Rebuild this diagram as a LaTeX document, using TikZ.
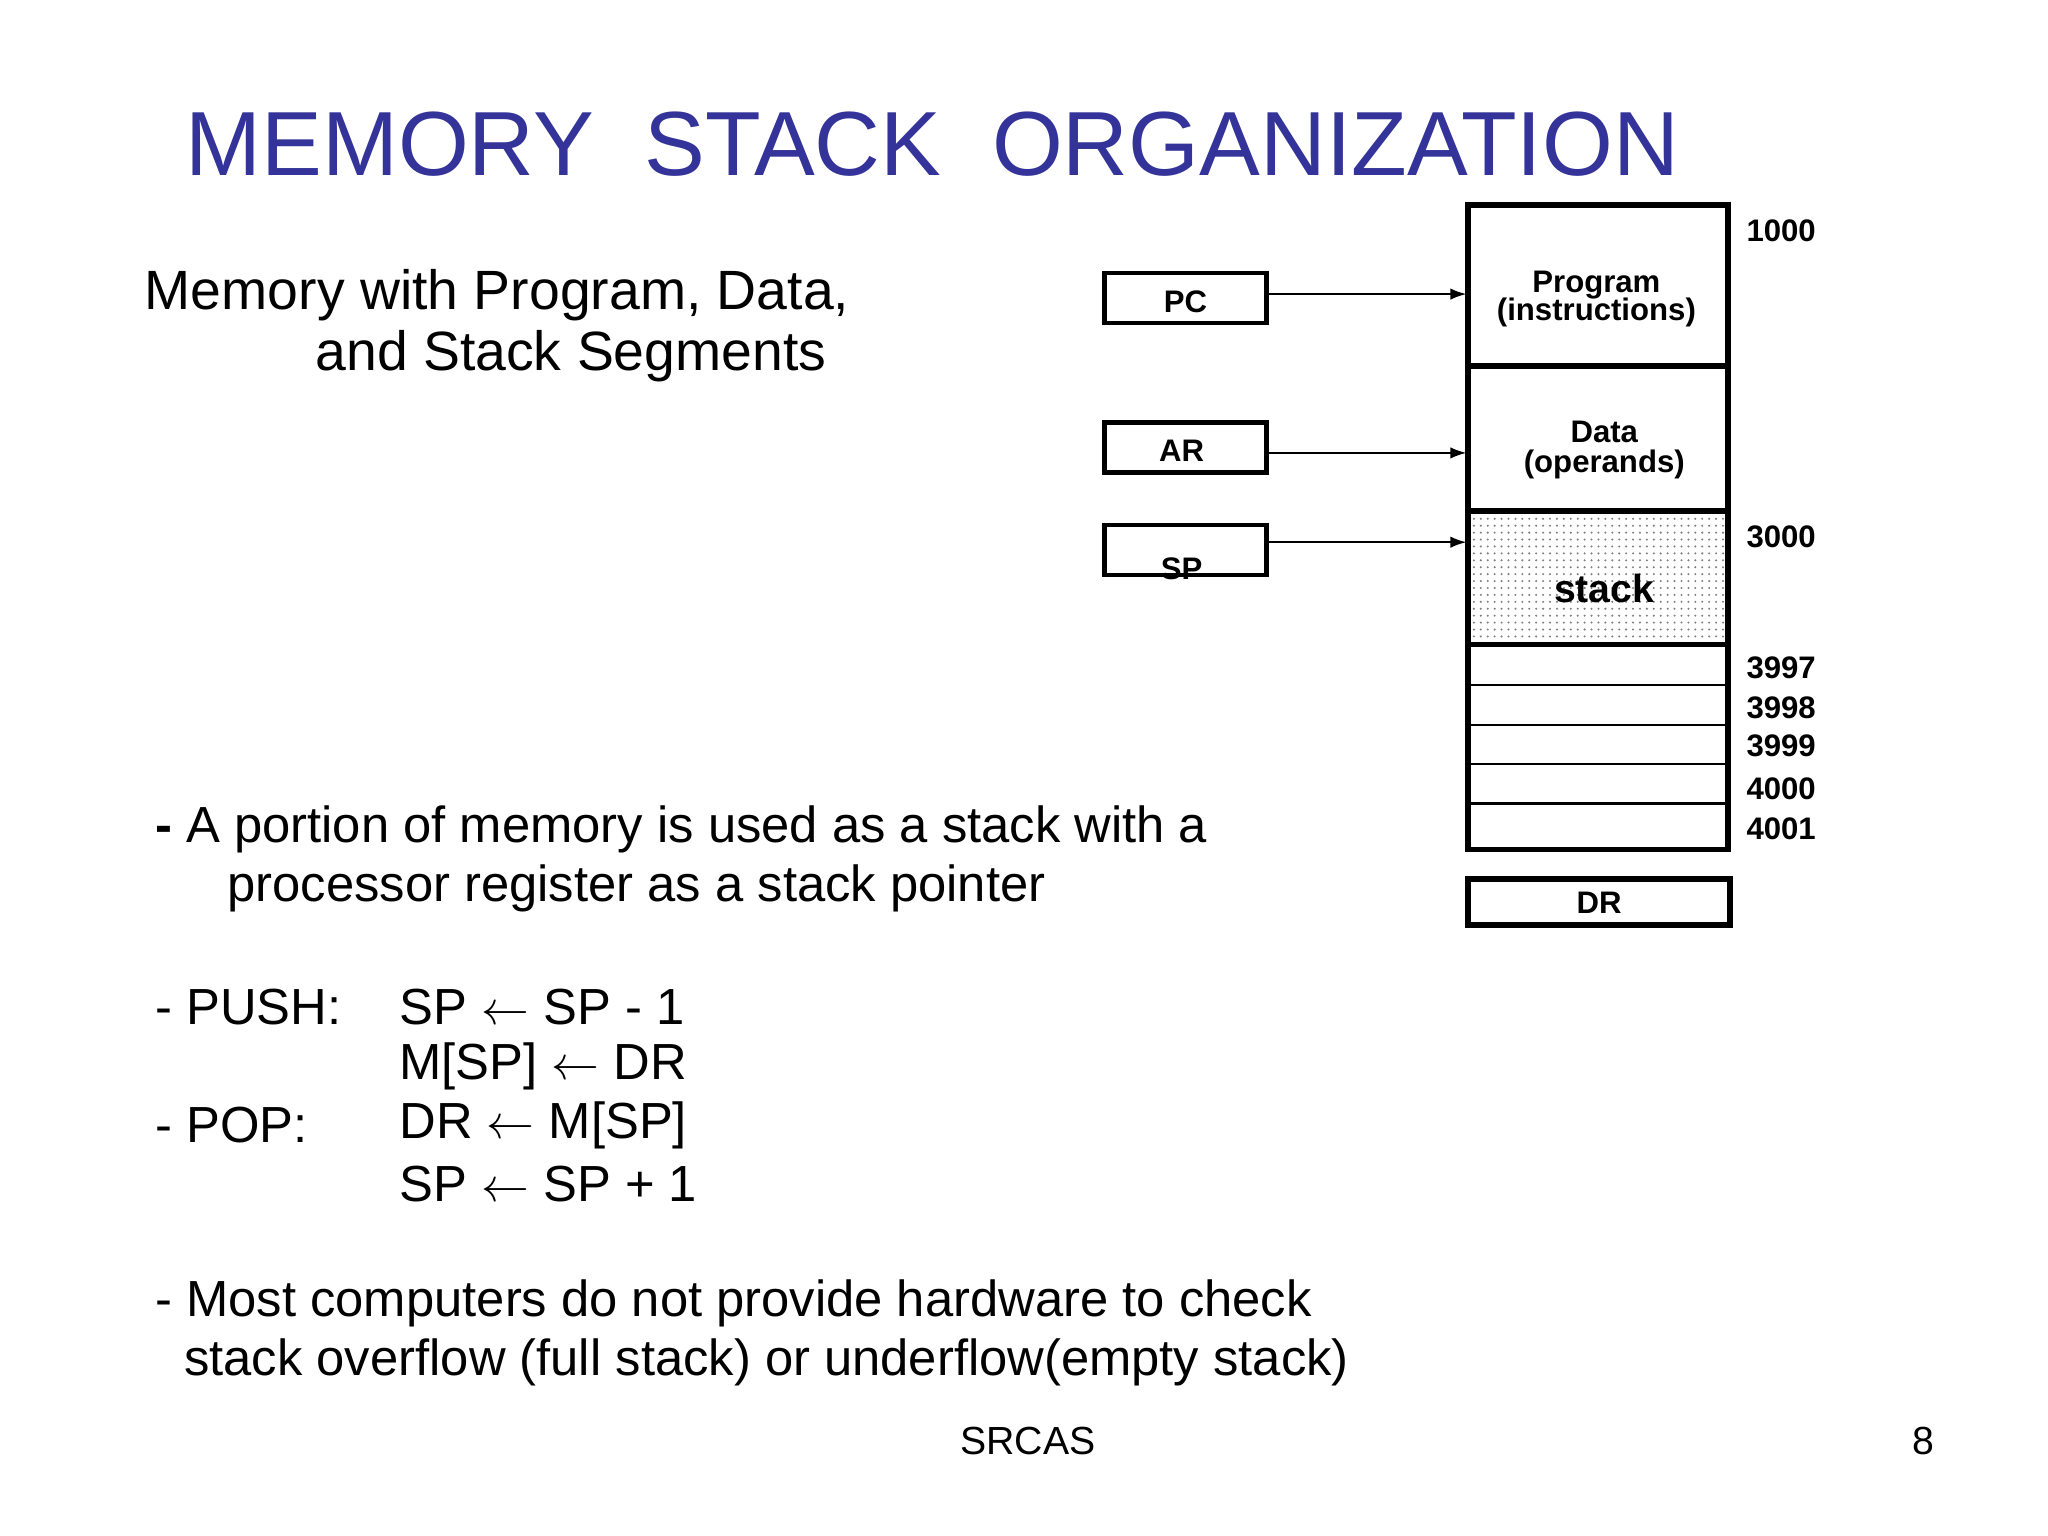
\documentclass[tikz,border=0pt]{standalone}
\usepackage{fontspec}
\setmainfont{Liberation Sans}
\usetikzlibrary{patterns,arrows.meta}
\definecolor{titleblue}{HTML}{333399}
\begin{document}
\begin{tikzpicture}[x=0.02cm,y=-0.02cm,
  reg/.style={draw,line width=2pt,minimum width=123*0.02cm,minimum height=38*0.02cm,inner sep=0pt},
  lbl/.style={font=\fontsize{13.5}{15}\selectfont\bfseries},
  body/.style={anchor=west,font=\fontsize{22}{25}\selectfont,inner sep=0pt},
  head/.style={anchor=west,font=\fontsize{24}{27}\selectfont,inner sep=0pt},
  ar/.style={-{Latex[length=7pt,width=5pt]},line width=0.8pt}]
\useasboundingbox (0,0) rectangle (1560,1170);
\node[text=titleblue,font=\fontsize{39.5}{44}\selectfont] (title) at (710,110) {MEMORY\ \ STACK\ \ ORGANIZATION};
\node[head] (m1) at (110,225) {Memory with Program, Data,};
\node[head] (m2) at (240,271) {and Stack Segments};
% memory
\fill[pattern=dots,pattern color=gray] (1120,391) rectangle (1314,490);
\draw[line width=2.5pt] (1118,156) rectangle (1316,647);
\draw[line width=2.5pt] (1118,279) -- (1316,279);
\draw[line width=2.5pt] (1118,389) -- (1316,389);
\draw[line width=2.5pt] (1118,491) -- (1316,491);
\foreach \y in {522,552,582,612} \draw[line width=1pt] (1118,\y) -- (1316,\y);
\node[lbl,align=center] (prog) at (1216,228) {Program\\[-3pt](instructions)};
\node[lbl,align=center] (data) at (1222,343) {Data\\[-2pt](operands)};
\node[font=\fontsize{17}{19}\selectfont\bfseries] (stk) at (1222,448) {stack};
\coordinate (mp) at (1117,224);
\coordinate (ma) at (1117,345);
\coordinate (ms) at (1117,413);
\node[reg] (pc) at (903,227) {}; \node[lbl] at (903,230) {PC};
\node[reg] (arr) at (903,341) {}; \node[lbl] at (900,343) {AR};
\node[reg] (sp) at (903,419) {}; \node[lbl] at (900,433) {SP};
\draw[ar] (pc.east |- mp) -- (mp);
\draw[ar] (arr.east |- ma) -- (ma);
\draw[ar] (sp.east |- ms) -- (ms);
\node[draw,line width=2.5pt,minimum width=200*0.02cm,minimum height=35*0.02cm,inner sep=0pt] (dr) at (1218,687) {};
\node[lbl] at (1218,688) {DR};
\foreach \t/\y in {1000/176,3000/409,3997/509,3998/539,3999/568,4000/601,4001/631}
  \node[lbl,anchor=west,inner sep=0pt] at (1330,\y) {\t};
% text
\node[body] (b1) at (118,632) {\textbf{-} A portion of memory is used as a stack with a};
\node[body] (b2) at (173,677) {processor register as a stack pointer};
\node[body] (p1) at (118,767) {- PUSH:};
\node[body] (p2) at (304,767) {SP $\leftarrow$ SP - 1};
\node[body] (p3) at (304,812) {M[SP] $\leftarrow$ DR};
\node[body] (p4) at (118,857) {- POP:};
\node[body] (p5) at (304,857) {DR $\leftarrow$ M[SP]};
\node[body] (p6) at (304,902) {SP $\leftarrow$ SP + 1};
\node[body] (c1) at (118,993) {- Most computers do not provide hardware to check};
\node[body] (c2) at (140,1038) {stack overflow (full stack) or underflow(empty stack)};
\node[font=\fontsize{17}{19}\selectfont] (foot) at (783,1098) {SRCAS};
\node[font=\fontsize{17}{19}\selectfont] (pg) at (1465,1098) {8};
\end{tikzpicture}
\end{document}
